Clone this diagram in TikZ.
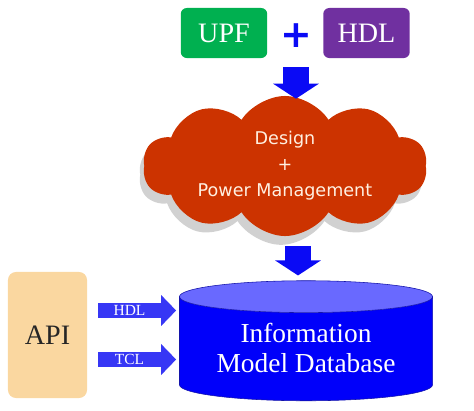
\documentclass[tikz,border=0pt]{standalone}
\usepackage{fontspec}
\setmainfont{Liberation Serif}
\newfontfamily\cloudfont{DejaVu Sans}
\usetikzlibrary{positioning, shapes, arrows.meta, calc, shadows}

\definecolor{upfgreen}{RGB}{0,176,80}
\definecolor{hdlpurple}{RGB}{112,48,160}
\definecolor{cloudred}{RGB}{204,51,0}
\definecolor{cloudtext}{RGB}{255,240,225}
\definecolor{dbblue}{RGB}{0,0,250}
\definecolor{dbtop}{RGB}{105,105,255}
\definecolor{dbedge}{RGB}{20,20,170}
\definecolor{apibox}{RGB}{250,215,160}
\definecolor{arrowblue}{RGB}{10,10,245}
\definecolor{sideblue}{RGB}{55,55,245}

\tikzset{
  inbox/.style={rounded corners=0.15cm, minimum width=2.16cm, minimum height=1.25cm,
    text=white, font=\fontsize{20}{22}\selectfont},
  downarrow/.style={draw=arrowblue, line width=0.625cm,
    -{Triangle[width=1.125cm, length=0.375cm]}},
  sidearrow/.style={draw=sideblue, line width=0.375cm,
    -{Triangle[width=0.75cm, length=0.375cm]}},
}

\begin{document}
\begin{tikzpicture}[x=0.025cm, y=-0.025cm]
                  \useasboundingbox (0,0) rectangle (474,410);
                  % Nodes
                  \node[inbox, fill=upfgreen] (upf) at (224,33) {UPF};
                  \node[inbox, fill=hdlpurple] (hdl) at (366.5,33) {HDL};
                  \node[text=arrowblue, font=\cloudfont\bfseries\fontsize{27}{27}\selectfont] (plus) at (296,36) {+};
                  \node[cloud, cloud puffs=10, cloud puff arc=115, cloud ignores aspect,
                        minimum width=7.1cm, minimum height=3.5cm, inner sep=0pt,
                        fill=cloudred, text=cloudtext, align=center,
                        font=\cloudfont\fontsize{12.5}{18.5}\selectfont,
                        drop shadow={shadow xshift=-0.1cm, shadow yshift=-0.22cm, fill=black, opacity=0.18}]
                        (cloud) at (285,166) {Design\\+\\Power Management};
                  \node[cylinder, shape border rotate=90, aspect=3.4,
                        minimum width=6.325cm, minimum height=3cm, draw=dbedge,
                        cylinder uses custom fill, cylinder body fill=dbblue, cylinder end fill=dbtop]
                        (db) at (306,351) {};
                  \node[text=white, align=center, font=\fontsize{19.5}{21.5}\selectfont]
                        (dbtext) at (306,348) {Information\\Model Database};
                  \node[rounded corners=0.2cm, fill=apibox, minimum width=1.975cm, minimum height=3.15cm,
                        text=black!85, font=\fontsize{20}{22}\selectfont] (api) at (47.5,335) {API};

                  % Arrows
                  \draw[downarrow, shorten <=0.775cm, shorten >=-0.075cm] (plus.center) -- (plus.center |- cloud.north);
                  \draw[downarrow, shorten <=0.25cm, shorten >=0.125cm]
                        ($(db.north |- cloud.south)+(-8,0)$) -- ($(db.north)+(-8,0)$);
                  \foreach \lbl/\dy in {HDL/-24.5,TCL/24.5}
                  \draw[sidearrow, shorten <=0.275cm, shorten >=0.075cm]
                        ($(api.east)+(0,\dy)$) -- ($(api.east -| db.west)+(0,\dy)$)
                        node[pos=0.46, text=white, font=\fontsize{11}{12}\selectfont] {\lbl};
              \end{tikzpicture}
\end{document}
